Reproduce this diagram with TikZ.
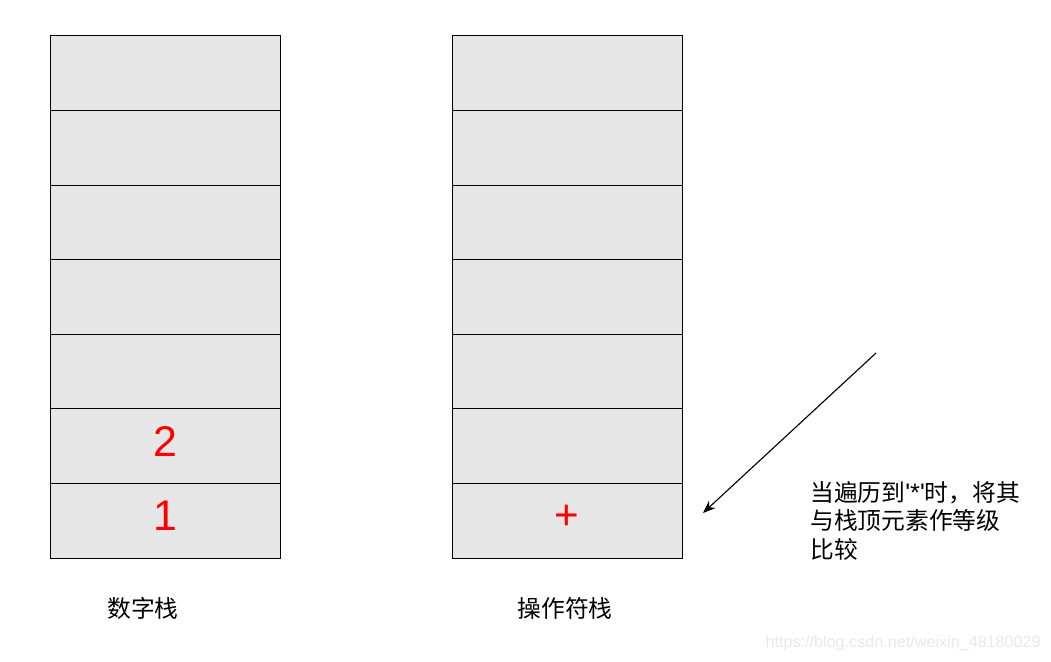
\documentclass[tikz,border=0pt]{standalone}
\usepackage{fontspec}
\setmainfont{Noto Sans CJK SC}
\newfontfamily\latinfont{Liberation Sans}
\usetikzlibrary{positioning,arrows.meta}
\definecolor{cellgray}{RGB}{230,230,230}
\begin{document}
\begin{tikzpicture}[
          x=0.025cm, y=-0.025cm,
          cell/.style={draw=black, fill=cellgray, line width=0.6pt,
            minimum width=5.75cm, minimum height=1.865cm, inner sep=0pt},
          val/.style={text=red, inner sep=0pt, font=\latinfont\fontsize{30.5}{32}\selectfont},
          caption/.style={font=\fontsize{16.9}{20}\selectfont},
          note/.style={font=\fontsize{16.9}{20.2}\selectfont, align=left, anchor=north west, inner sep=0pt}
        ]
        \useasboundingbox (0,0) rectangle (1051,662);
        % stacks
        \foreach \i in {1,...,7} {
          \node[cell] (num-\i) at (165,{558-37.3-74.6*(\i-1)}) {};
          \node[cell] (op-\i) at (567,{558-37.3-74.6*(\i-1)}) {};
        }
        \node[val, yshift=3.5pt] (one) at (num-1) {1};
        \node[val, yshift=3.5pt] (two) at (num-2) {2};
        \node[val, anchor=base, yshift=-6.4pt, font=\latinfont\fontsize{30}{32}\selectfont] (plus) at (op-1) {+};
        % labels
        \node[caption] (numlabel) at (143,608) {数字栈};
        \node[caption] (oplabel) at (565,608) {操作符栈};
        % arrow and note
        \coordinate (arrowstart) at (876,353);
        \coordinate (arrowend) at (703,513);
        \draw[-{Stealth[length=9pt,width=7pt]}, line width=0.8pt] (arrowstart) -- (arrowend);
        \node[note] (remark) at (810,481) {当遍历到{\latinfont\fontsize{18}{18}\selectfont'*'}时，将其\\与栈顶元素作等级\\比较};
        \node[text=black!9, font=\latinfont\fontsize{11.5}{13}\selectfont, anchor=east, inner sep=0pt] (mark) at (1041,643) {https://blog.csdn.net/weixin\_48180029};
\end{tikzpicture}
\end{document}
